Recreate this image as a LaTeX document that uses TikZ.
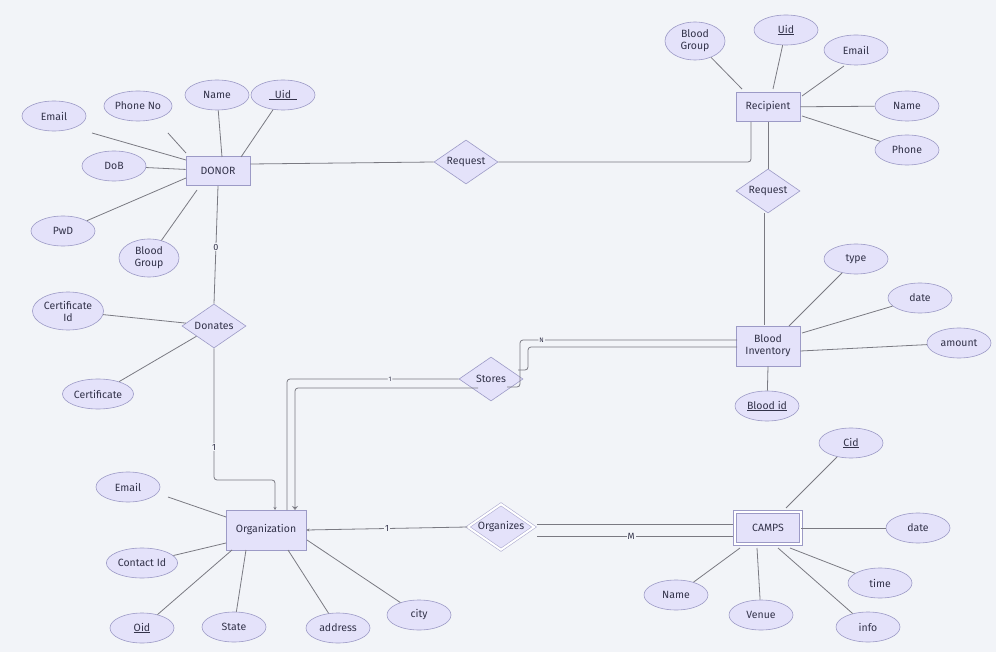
\documentclass[tikz,border=0pt]{standalone}
\usepackage{fontspec}
\setmainfont{Fira Sans}
\usetikzlibrary{shapes.geometric,arrows.meta}
\definecolor{bg}{HTML}{F2F4F8}
\definecolor{nf}{HTML}{E4E2FA}
\definecolor{nd}{HTML}{9C9AC6}
\definecolor{ln}{HTML}{7A7A82}
\definecolor{tx}{HTML}{33334A}
\begin{document}
\begin{tikzpicture}[x=1pt,y=-1pt,font=\fontsize{10.5}{12}\selectfont,text=tx,
 ent/.style={draw=nd,fill=nf,minimum width=64pt,minimum height=29pt,align=center,line width=0.8pt},
 att/.style={draw=nd,fill=nf,ellipse,minimum width=64pt,minimum height=30pt,inner sep=1pt,align=center,line width=0.6pt},
 rel/.style={draw=nd,fill=nf,diamond,aspect=1.45,inner sep=1pt,minimum width=64pt,minimum height=44pt,line width=0.6pt},
 cn/.style={draw=ln,line width=0.8pt},
 lab/.style={fill=bg,inner sep=1pt,font=\fontsize{9}{10}\selectfont},
 slab/.style={fill=bg,inner sep=1pt,font=\fontsize{6.5}{7}\selectfont}]
\fill[bg] (0,0) rectangle (996,652);
\useasboundingbox (0,0) rectangle (996,652);
% DONOR
\node[ent] (donor) at (218,171) {DONOR};
\node[att] (demail) at (54,116) {Email};
\node[att] (dphone) at (138,106) {Phone No};
\node[att] (dname) at (217,95) {Name};
\node[att] (duid) at (283,95) {\underline{\ \ Uid\ \ }};
\node[att] (ddob) at (114,166) {DoB};
\node[att] (dpwd) at (63,231) {PwD};
\node[att,minimum height=38pt,minimum width=60pt] (dbg) at (149,258) {Blood\\Group};
\draw[cn] (92,133) -- (186,160);
\draw[cn] (168,133) -- (186,153);
\draw[cn] (dname) -- (222,157);
\draw[cn] (duid) -- (241,157);
\draw[cn] (ddob) -- (donor);
\draw[cn] (dpwd) -- (186,178);
\draw[cn] (dbg) -- (197,190);
% Recipient
\node[ent] (rec) at (768,107) {Recipient};
\node[att,minimum height=38pt,minimum width=60pt] (rbg) at (695,41) {Blood\\Group};
\node[att] (ruid) at (786,30) {\underline{Uid}};
\node[att] (remail) at (856,50) {Email};
\node[att] (rname) at (907,106) {Name};
\node[att] (rphone) at (907,150) {Phone};
\draw[cn] (rbg) -- (742,89);
\draw[cn] (ruid) -- (773,89);
\draw[cn] (844,66) -- (802,96);
\draw[cn] (rname) -- (rec);
\draw[cn] (rphone) -- (802,116);
% Request
\node[rel] (req1) at (466,162) {Request};
\node[rel] (req2) at (768,191) {Request};
\draw[cn] (donor.east |- 0,164) -- (req1.west);
\draw[cn,rounded corners=3pt] (req1.east) -- (751,162) -- (751,122);
\draw[cn] (rec.south) -- (req2.north);
% Blood inventory
\node[ent,minimum height=40pt] (bi) at (768,346) {Blood\\Inventory};
\node[att] (type) at (856,259) {type};
\node[att] (bdate) at (920,298) {date};
\node[att] (amt) at (959,343) {amount};
\node[att] (bid) at (767,406) {\underline{Blood id}};
\draw[cn] (req2.south) ++(-4,0) -- (764,325);
\draw[cn] (type) -- (789,326);
\draw[cn] (bdate) -- (802,333);
\draw[cn] (amt) -- (bi.east |- 0,351);
\draw[cn] (bid) -- (bi.south);
% Donates
\node[rel] (don) at (214,326) {Donates};
\node[att,minimum height=38pt] (cid) at (68,311) {Certificate\\Id};
\node[att,minimum width=66pt] (cert) at (98,394) {Certificate};
\draw[cn] (donor.south |- 0,186) -- node[lab,pos=0.52]{0} (don.north);
\draw[cn] (cid) -- (don);
\draw[cn] (cert) -- (don);
% Organization
\node[ent,minimum width=80pt,minimum height=40pt] (org) at (266,530) {Organization};
\node[att] (oemail) at (128,487) {Email};
\node[att] (ocon) at (142,563) {Contact Id};
\node[att] (oid) at (142,628) {\underline{Oid}};
\node[att] (ost) at (234,627) {State};
\node[att] (oadd) at (338,628) {address};
\node[att] (ocity) at (419,615) {city};
\draw[cn] (168,497) -- (226,517);
\draw[cn] (ocon) -- (226,543);
\draw[cn] (oid) -- (232,550);
\draw[cn] (ost) -- (246,550);
\draw[cn] (oadd) -- (288,550);
\draw[cn] (ocity) -- (307,540);
\draw[cn,rounded corners=3pt,-{Stealth[length=3pt,width=3pt]}] (don.south) -- node[lab,pos=0.75]{1} (214,480) -- (275,480) -- (275,510);
% Stores
\node[rel] (sto) at (491,379) {Stores};
\draw[cn,rounded corners=3pt] (sto.west) -- node[slab,pos=0.4]{1} (287,379) -- (287,510);
\draw[cn,rounded corners=3pt,-{Stealth[length=4pt,width=6pt,open]}] (478,388) -- (295,388) -- (295,510);
\draw[cn,rounded corners=3pt] (507,387) -- (520,387) -- (520,340) -- node[slab,pos=0.1]{N} (737,340);
\draw[cn,rounded corners=3pt] (518,370) -- (528,370) -- (528,347) -- (737,347);
% Organizes
\node[rel,double,double distance=2pt,draw=nd!80] (orgz) at (501,527) {Organizes};
\node[ent,double,double distance=2pt,minimum width=66pt,minimum height=32pt] (camps) at (768,528) {CAMPS};
\draw[cn,-{Stealth[length=3pt,width=3pt]}] (orgz.west) -- node[lab]{1} (org.east |- 0,530);
\draw[cn] (537,524) -- (733,524);
\draw[cn] (537,536) -- node[lab,pos=0.48]{M} (733,536);
\node[att] (ccid) at (851,443) {\underline{Cid}};
\node[att] (cdate) at (918,528) {date};
\node[att] (ctime) at (880,583) {time};
\node[att] (cinfo) at (868,627) {info};
\node[att] (cven) at (761,615) {Venue};
\node[att] (cname) at (676,595) {Name};
\draw[cn] (ccid) -- (786,508);
\draw[cn] (cdate) -- (camps);
\draw[cn] (ctime) -- (790,548);
\draw[cn] (cinfo) -- (778,548);
\draw[cn] (cven) -- (757,548);
\draw[cn] (cname) -- (740,548);
\end{tikzpicture}
\end{document}
